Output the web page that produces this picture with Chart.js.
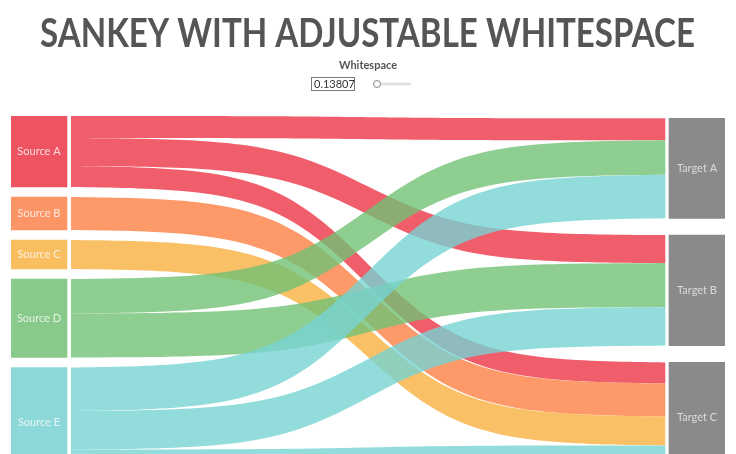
<!DOCTYPE html>
<html>
<head>
<meta charset="utf-8">
<script src="https://cdn.jsdelivr.net/npm/chart.js@4.4.1/dist/chart.umd.min.js"></script>
<style>
html,body{margin:0;padding:0;background:#fff;overflow:hidden}
#wrap{width:736px;height:454px;position:relative}
</style>
</head>
<body>
<div id="wrap"><canvas id="c" width="736" height="454"></canvas></div>
<script>
// ---------- data ----------
const titleText = 'SANKEY WITH ADJUSTABLE WHITESPACE';
const paramLabel = 'Whitespace';
const whitespace = 0.13807;
const sources = ['Source A', 'Source B', 'Source C', 'Source D', 'Source E'];
const targets = ['Target A', 'Target B', 'Target C'];
const flowFrom = [0, 0, 0, 1, 2, 3, 3, 4, 4, 4];
const flowTo = [0, 1, 2, 2, 2, 0, 1, 0, 1, 2];
const flowValues = [22, 28, 21, 33, 29, 34.5, 44, 43.5, 38.5, 27];

// ---------- styles / layout ----------
const sourceNodeColors = ['#EE5361', '#FC9565', '#F8BE60', '#87CA89', '#8DD8D8'];
const flowColors = ['rgba(236,54,71,0.8)', 'rgba(254,129,69,0.8)', 'rgba(248,176,62,0.8)',
                    'rgba(114,194,116,0.8)', 'rgba(119,211,211,0.8)'];
const targetNodeColor = '#8A8A8A';
const LAYOUT = {
  srcGap: 10, tgtGap: 16.8, tgtOffset: 2.3,
  srcX: 28, tgtX: 686, nodeW: 56, flowX0: 60, flowX1: 654.3,
  xMax: 714, yMax: 338
};

// ---------- derived node extents ----------
function stack(names, side, gap, offset) {
  const out = [];
  let y = offset;
  names.forEach((n, i) => {
    let tot = 0;
    flowValues.forEach((v, k) => { if (side[k] === i) tot += v; });
    out.push([y, y + tot]);
    y += tot + gap;
  });
  return out;
}
const srcExt = stack(sources, flowFrom, LAYOUT.srcGap, 0);
const tgtExt = stack(targets, flowTo, LAYOUT.tgtGap, LAYOUT.tgtOffset);

function sig(f) {
  const s = t => 1 / (1 + Math.exp(-t));
  const a = s(-6), b = s(6);
  return (s(12 * f - 6) - a) / (b - a);
}

const flowPlugin = {
  id: 'flows',
  beforeDatasetsDraw(chart) {
    const ctx = chart.ctx, xs = chart.scales.x, ys = chart.scales.y;
    const srcCur = srcExt.map(e => e[0]);
    const tgtCur = tgtExt.map(e => e[0]);
    const area = chart.chartArea;
    ctx.save();
    ctx.beginPath();
    ctx.rect(area.left, area.top, area.right - area.left, area.bottom - area.top);
    ctx.clip();
    flowValues.forEach((v, k) => {
      const s = flowFrom[k], t = flowTo[k];
      const s0 = srcCur[s], t0 = tgtCur[t];
      srcCur[s] += v; tgtCur[t] += v;
      const N = 80;
      ctx.beginPath();
      for (let i = 0; i <= N; i++) {
        const f = i / N;
        const xv = LAYOUT.flowX0 + (LAYOUT.flowX1 - LAYOUT.flowX0) * f;
        const yv = s0 + (t0 - s0) * sig(f);
        const px = xs.getPixelForValue(xv), py = ys.getPixelForValue(yv);
        if (i === 0) ctx.moveTo(px, py); else ctx.lineTo(px, py);
      }
      for (let i = N; i >= 0; i--) {
        const f = i / N;
        const xv = LAYOUT.flowX0 + (LAYOUT.flowX1 - LAYOUT.flowX0) * f;
        const yv = s0 + v + (t0 - s0) * sig(f);
        ctx.lineTo(xs.getPixelForValue(xv), ys.getPixelForValue(yv));
      }
      ctx.closePath();
      ctx.fillStyle = flowColors[s];
      ctx.fill();
    });
    ctx.restore();
  },
  afterDatasetsDraw(chart) {
    const ctx = chart.ctx, xs = chart.scales.x, ys = chart.scales.y;
    ctx.save();
    ctx.font = '11px Lato';
    ctx.textAlign = 'center';
    ctx.textBaseline = 'middle';
    ctx.fillStyle = 'rgba(255,255,255,0.78)';
    sources.forEach((n, i) => {
      const c = (srcExt[i][0] + srcExt[i][1]) / 2;
      ctx.fillText(n, xs.getPixelForValue(LAYOUT.srcX), ys.getPixelForValue(c));
    });
    ctx.fillStyle = '#DADADA';
    targets.forEach((n, i) => {
      const c = (tgtExt[i][0] + tgtExt[i][1]) / 2;
      ctx.fillText(n, xs.getPixelForValue(LAYOUT.tgtX), ys.getPixelForValue(c));
    });
    ctx.restore();
  },
  afterDraw(chart) {
    const ctx = chart.ctx;
    ctx.save();
    // title
    ctx.font = 'bold 40px Lato';
    ctx.fillStyle = '#555555';
    ctx.textBaseline = 'alphabetic';
    ctx.textAlign = 'left';
    const w = ctx.measureText(titleText).width;
    const targetW = 655;
    ctx.translate(40, 47);
    ctx.scale(targetW / w, 1);
    ctx.fillText(titleText, 0, 0);
    ctx.restore();
    ctx.save();
    // parameter control
    ctx.font = 'bold 11px Lato';
    ctx.fillStyle = '#555555';
    ctx.textAlign = 'center';
    ctx.textBaseline = 'middle';
    ctx.fillText(paramLabel, 368, 65);
    ctx.fillStyle = '#ffffff';
    ctx.fillRect(311.5, 77.5, 43, 13);
    ctx.strokeStyle = '#7a7a7a';
    ctx.lineWidth = 1;
    ctx.strokeRect(311.5, 77.5, 43, 13);
    ctx.font = '11px Lato';
    ctx.fillStyle = '#333333';
    ctx.textAlign = 'left';
    ctx.fillText(String(whitespace), 314, 84.5);
    ctx.fillStyle = '#e2e2e2';
    ctx.fillRect(380, 82.5, 31, 3);
    ctx.beginPath();
    ctx.arc(377, 84, 3.5, 0, Math.PI * 2);
    ctx.fillStyle = '#ffffff';
    ctx.fill();
    ctx.strokeStyle = '#888888';
    ctx.stroke();
    ctx.restore();
  }
};

new Chart(document.getElementById('c'), {
  type: 'bar',
  data: {
    datasets: [
      {
        label: 'Sources',
        data: sources.map((n, i) => ({ x: LAYOUT.srcX, y: srcExt[i] })),
        backgroundColor: sourceNodeColors,
        barThickness: LAYOUT.nodeW,
        grouped: false,
        borderWidth: 0
      },
      {
        label: 'Targets',
        data: targets.map((n, i) => ({ x: LAYOUT.tgtX, y: tgtExt[i] })),
        backgroundColor: targetNodeColor,
        barThickness: LAYOUT.nodeW,
        grouped: false,
        borderWidth: 0
      }
    ]
  },
  options: {
    responsive: false,
    animation: false,
    devicePixelRatio: 1,
    layout: { padding: { top: 116, left: 11, right: 11, bottom: 0 } },
    plugins: { legend: { display: false }, title: { display: false }, tooltip: { enabled: false } },
    scales: {
      x: { type: 'linear', min: 0, max: LAYOUT.xMax, offset: false, display: false },
      y: { type: 'linear', min: 0, max: LAYOUT.yMax, reverse: true, display: false }
    }
  },
  plugins: [flowPlugin]
});
</script>
</body>
</html>
